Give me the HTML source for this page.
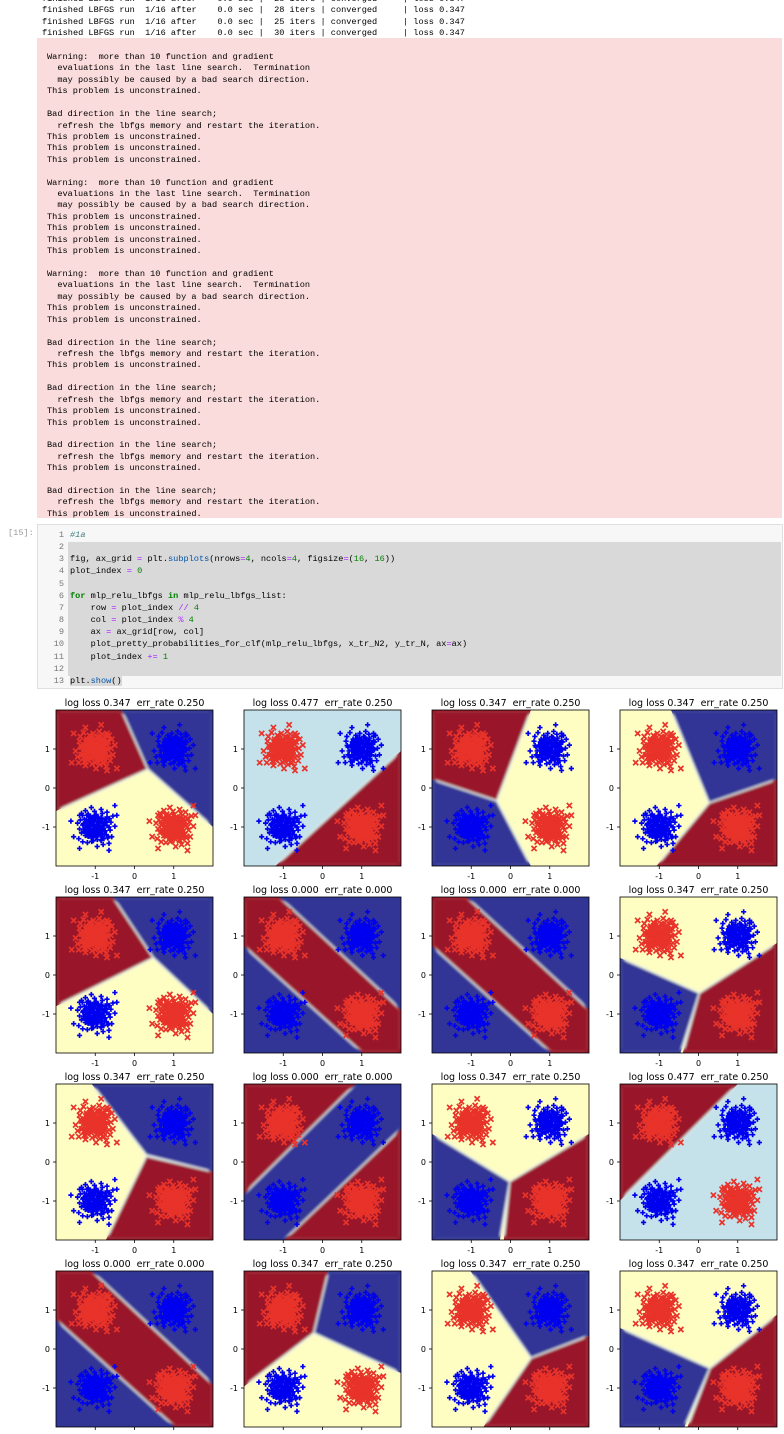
<!DOCTYPE html>
<html><head><meta charset="utf-8">
<style>
body{margin:0;width:784px;height:1434px;overflow:hidden;background:#fff;position:relative;font-family:"Liberation Mono",monospace;}
.mono{font-family:"Liberation Mono",monospace;font-size:8.6px;white-space:pre;line-height:11.3px;color:#000;}
#log{position:absolute;left:42px;top:-6px;}
#stderr{position:absolute;left:37px;top:38px;width:745px;height:480px;background:#fadcdc;}
#stderr .mono{position:absolute;left:10px;top:14px;line-height:11.42px;}
#prompt{position:absolute;left:8px;top:528px;font-size:8.6px;color:#999;}
#cell{position:absolute;left:37px;top:524px;width:744px;height:163px;background:#f7f7f7;border:1px solid #dfdfdf;}
#hl{position:absolute;left:30px;top:17px;width:713px;height:134px;background:#d9d9d9;}
#hl2{position:absolute;left:32px;top:150px;width:52px;height:11px;background:#d9d9d9;}
#lnums{position:absolute;left:0;top:4px;width:26px;text-align:right;color:#777;line-height:12.15px;}
#code{position:absolute;left:32px;top:4px;line-height:12.15px;}
.c{color:#408080;font-style:italic}.k{color:#008000;font-weight:bold}.n{color:#008000}.o{color:#aa22ff}.f{color:#0055aa}
#plots{position:absolute;left:0;top:690px;}
</style></head><body>
<div id="log" class="mono">finished LBFGS run  1/16 after    0.0 sec |  28 iters | converged     | loss 0.347
finished LBFGS run  1/16 after    0.0 sec |  28 iters | converged     | loss 0.347
finished LBFGS run  1/16 after    0.0 sec |  25 iters | converged     | loss 0.347
finished LBFGS run  1/16 after    0.0 sec |  30 iters | converged     | loss 0.347</div>
<div id="stderr"><div class="mono">Warning:  more than 10 function and gradient
  evaluations in the last line search.  Termination
  may possibly be caused by a bad search direction.
This problem is unconstrained.

Bad direction in the line search;
  refresh the lbfgs memory and restart the iteration.
This problem is unconstrained.
This problem is unconstrained.
This problem is unconstrained.

Warning:  more than 10 function and gradient
  evaluations in the last line search.  Termination
  may possibly be caused by a bad search direction.
This problem is unconstrained.
This problem is unconstrained.
This problem is unconstrained.
This problem is unconstrained.

Warning:  more than 10 function and gradient
  evaluations in the last line search.  Termination
  may possibly be caused by a bad search direction.
This problem is unconstrained.
This problem is unconstrained.

Bad direction in the line search;
  refresh the lbfgs memory and restart the iteration.
This problem is unconstrained.

Bad direction in the line search;
  refresh the lbfgs memory and restart the iteration.
This problem is unconstrained.
This problem is unconstrained.

Bad direction in the line search;
  refresh the lbfgs memory and restart the iteration.
This problem is unconstrained.

Bad direction in the line search;
  refresh the lbfgs memory and restart the iteration.
This problem is unconstrained.</div></div>
<div id="prompt" class="mono">[15]:</div>
<div id="cell">
<div id="hl"></div><div id="hl2"></div>
<div id="lnums" class="mono">1
2
3
4
5
6
7
8
9
10
11
12
13</div>
<div id="code" class="mono"><span class="c">#1a</span>

fig, ax_grid <span class="o">=</span> plt.<span class="f">subplots</span>(nrows<span class="o">=</span><span class="n">4</span>, ncols<span class="o">=</span><span class="n">4</span>, figsize<span class="o">=</span>(<span class="n">16</span>, <span class="n">16</span>))
plot_index <span class="o">=</span> <span class="n">0</span>

<span class="k">for</span> mlp_relu_lbfgs <span class="k">in</span> mlp_relu_lbfgs_list:
    row <span class="o">=</span> plot_index <span class="o">//</span> <span class="n">4</span>
    col <span class="o">=</span> plot_index <span class="o">%</span> <span class="n">4</span>
    ax <span class="o">=</span> ax_grid[row, col]
    plot_pretty_probabilities_for_clf(mlp_relu_lbfgs, x_tr_N2, y_tr_N, ax<span class="o">=</span>ax)
    plot_index <span class="o">+=</span> <span class="n">1</span>

plt.<span class="f">show</span>()</div>
</div>
<svg id="plots" width="784" height="744">
<defs><filter id="bl" filterUnits="userSpaceOnUse" x="0" y="0" width="784" height="744"><feGaussianBlur stdDeviation="1.4"/></filter>
<filter id="mb" filterUnits="userSpaceOnUse" x="0" y="0" width="784" height="744"><feGaussianBlur stdDeviation="1.5"/></filter></defs>
</svg>
<script>
const logLosses=["0.347","0.477","0.347","0.347","0.347","0.000","0.000","0.347","0.347","0.000","0.347","0.477","0.000","0.347","0.347","0.347"];
const errRates=["0.250","0.250","0.250","0.250","0.250","0.000","0.000","0.250","0.250","0.000","0.250","0.250","0.000","0.250","0.250","0.250"];
const backgrounds=["Y","L","Y","Y","Y","B","B","Y","Y","B","Y","L","B","Y","Y","Y"];
const regions=[
 [["R",[[-2,2],[-0.33,2],[0.34,0.48],[-2,-0.59]]],["B",[[-0.33,2],[2,2],[2,-1],[0.34,0.48]]]],
 [["R",[[-1.2,-2],[2,0.95],[2,-2]]]],
 [["R",[[-2,2],[0.52,2],[-0.35,-0.33],[-2,0.22]]],["B",[[-2,0.22],[-0.35,-0.33],[0.52,-2],[-2,-2]]]],
 [["B",[[-0.7,2],[2,2],[2,0.22],[0.27,-0.38]]],["R",[[0.27,-0.38],[2,0.22],[2,-2],[-1.07,-2]]]],
 [["R",[[-2,2],[-0.55,2],[0.48,0.44],[-2,-0.8]]],["B",[[-0.55,2],[2,2],[2,-1],[0.48,0.44]]]],
 [["R",[[-2,2],[-1.1,2],[2,-0.89],[2,-2],[1.02,-2],[-2,0.74]]]],
 [["R",[[-2,2],[-1.12,2],[2,-0.89],[2,-2],[1.04,-2],[-2,0.74]]]],
 [["B",[[-2,0.44],[0.02,-0.46],[-0.46,-2],[-2,-2]]],["R",[[0.02,-0.46],[2,0.82],[2,-2],[-0.4,-2]]]],
 [["B",[[-1.09,2],[2,2],[2,-0.25],[0.3,0.18]]],["R",[[0.3,0.15],[2,-0.25],[2,-2],[-0.73,-2]]]],
 [["R",[[-2,2],[0.84,2],[-2,-0.82]]],["R",[[-0.98,-2],[2,0.85],[2,-2]]]],
 [["B",[[-2,0.72],[-0.02,-0.5],[-0.27,-2],[-2,-2]]],["R",[[-0.02,-0.5],[2,0.72],[2,-2],[-0.17,-2]]]],
 [["R",[[-2,2],[1,2],[-2,-0.99]]]],
 [["R",[[-2,2],[-1.09,2],[2,-0.91],[2,-2],[1.03,-2],[-2,0.75]]]],
 [["R",[[-2,2],[0.15,2],[-0.22,0.41],[-2,-0.96]]],["B",[[0.15,2],[2,2],[2,-0.62],[-0.22,0.41]]]],
 [["B",[[-1.02,2],[2,2],[2,0.34],[0.52,-0.23]]],["R",[[0.52,-0.23],[2,0.34],[2,-2],[-0.69,-2]]]],
 [["B",[[-2,0.54],[0.29,-0.49],[-0.36,-2],[-2,-2]]],["R",[[0.29,-0.49],[2,0.88],[2,-2],[-0.28,-2]]]]
];
const clusterCenters=[[-1,1],[1,-1],[1,1],[-1,-1]];
const clusterClass=["red","red","blue","blue"];
const offsets=[[0.02,0.05],[-0.2,0.1],[0.18,-0.12],[-0.1,-0.25],[0.3,0.2],[-0.32,-0.05],[0.08,0.3],[0.25,-0.3],[-0.15,0.35],[0.4,0.02],
[-0.4,0.2],[0.12,-0.4],[-0.28,-0.32],[0.35,0.35],[-0.05,-0.12],[0.15,0.15],[-0.22,0.25],[0.22,0.05],[-0.12,-0.05],[0.05,-0.22],
[0.45,-0.15],[-0.45,-0.2],[0.1,0.45],[-0.3,0.42],[0.28,-0.45],[-0.08,0.18],[0.32,-0.02],[-0.35,0.05],[0.0,-0.35],[0.2,0.28],
[-0.18,-0.15],[0.05,0.12],[-0.02,0.25],[0.38,-0.3],[-0.25,-0.42],[0.15,-0.28],[-0.38,0.32],[0.28,0.12],[-0.1,0.05],[0.08,-0.08],
[0.5,0.1],[-0.5,-0.05],[0.02,-0.5],[0.2,-0.18],[-0.2,-0.28],[0.12,0.22],[-0.05,0.4],[0.3,0.4],[-0.12,0.28],[0.42,0.25],
[-0.42,-0.35],[0.18,0.38],[-0.28,0.1],[0.1,-0.1],[0.25,-0.08],[-0.08,-0.38],[0.35,-0.18],[-0.2,0.0],[0.55,-0.5],[-0.6,-0.35],
[0.15,0.62],[-0.25,0.55],[0.3,-0.55],[-0.55,0.4],[0.0,0.0],[-0.35,-0.15],[0.05,0.32],[-0.15,0.12],[0.22,-0.35],[-0.3,-0.22]];
const xTicks=[-1,0,1], yTicks=[1,0,-1];
const colors={R:"#99182a",B:"#313695",Y:"#fefdc2",L:"#c5e2eb"};
const lefts=[56,244,432,620], tops=[20,207,394,581], W=157, H=156;
const NS="http://www.w3.org/2000/svg";
const svg=document.getElementById("plots");
const defs=svg.querySelector("defs");
function mk(t,a,p){const e=document.createElementNS(NS,t);for(const k in a)e.setAttribute(k,a[k]);(p||svg).appendChild(e);return e;}
for(let i=0;i<16;i++){
  const L=lefts[i%4],T=tops[Math.floor(i/4)];
  const sx=v=>L+(v+2)/4*W, sy=v=>T+(2-v)/4*H;
  const g=mk("g",{});
  
  
  const cp=mk("clipPath",{id:"cp"+i},defs); mk("rect",{x:L,y:T,width:W,height:H},cp);
  const mask=mk("mask",{id:"mk"+i,maskUnits:"userSpaceOnUse",x:0,y:0,width:784,height:744},defs);
  mk("rect",{x:L+3.5,y:T+3.5,width:W-7,height:H-7,fill:"#fff",filter:"url(#mb)"},mask);
  const cg=mk("g",{"clip-path":"url(#cp"+i+")"},g);
  const drawRegions=(parent)=>{
    mk("rect",{x:L-2,y:T-2,width:W+4,height:H+4,fill:colors[backgrounds[i]]},parent);
    regions[i].forEach(r=>{
      const p=mk("polygon",{points:r[1].map(q=>sx(q[0])+","+sy(q[1])).join(" "),fill:colors[r[0]]},parent);
      
      
    });
  };
  drawRegions(mk("g",{},cg));
  const bg=mk("g",{mask:"url(#mk"+i+")"},cg);
  const rg=mk("g",{filter:"url(#bl)"},bg);
  drawRegions(rg);
  rg.querySelectorAll("polygon").forEach(p=>{p.setAttribute("stroke","#e6f2ee");p.setAttribute("stroke-width","1.5");});
  clusterCenters.forEach((c,ci)=>{
    const red=clusterClass[ci]==="red";
    [1,0.6].forEach((sc,pass)=>{
    offsets.forEach((o,k)=>{
      let ox=(ci%2? -o[1]:o[0]), oy=(ci%2? o[0]:o[1]);
      if(pass){const t=ox;ox=-oy*sc;oy=t*sc;}
      const x=sx(c[0]+ox), y=sy(c[1]+oy), s=2.6;
      const d=red?`M${x-s},${y-s}L${x+s},${y+s}M${x-s},${y+s}L${x+s},${y-s}`:`M${x-s},${y}L${x+s},${y}M${x},${y-s}L${x},${y+s}`;
      const m=mk("path",{d:d,stroke:red?"#e8332a":"#0000f0","stroke-width":1.7},cg);
      
      
    });
    });
  });
  mk("rect",{x:L,y:T,width:W,height:H,fill:"none",stroke:"#000","stroke-width":0.8},g);
  const t=mk("text",{x:L+W/2,y:T-4,"text-anchor":"middle","font-family":"DejaVu Sans, sans-serif","font-size":9.5,fill:"#000",style:"white-space:pre"},g);
  t.textContent="log loss "+logLosses[i]+"  err_rate "+errRates[i];
  
  
  xTicks.forEach(v=>{
    mk("line",{x1:sx(v),x2:sx(v),y1:T+H,y2:T+H+3,stroke:"#000","stroke-width":0.8},g);
    const tx=mk("text",{x:sx(v),y:T+H+13,"text-anchor":"middle","font-family":"DejaVu Sans, sans-serif","font-size":8,fill:"#000"},g);
    tx.textContent=String(v);
    
    
  });
  yTicks.forEach(v=>{
    mk("line",{x1:L-3,x2:L,y1:sy(v),y2:sy(v),stroke:"#000","stroke-width":0.8},g);
    const ty=mk("text",{x:L-6,y:sy(v)+3,"text-anchor":"end","font-family":"DejaVu Sans, sans-serif","font-size":8,fill:"#000"},g);
    ty.textContent=String(v);
    
    
  });
}
</script>
</body></html>
